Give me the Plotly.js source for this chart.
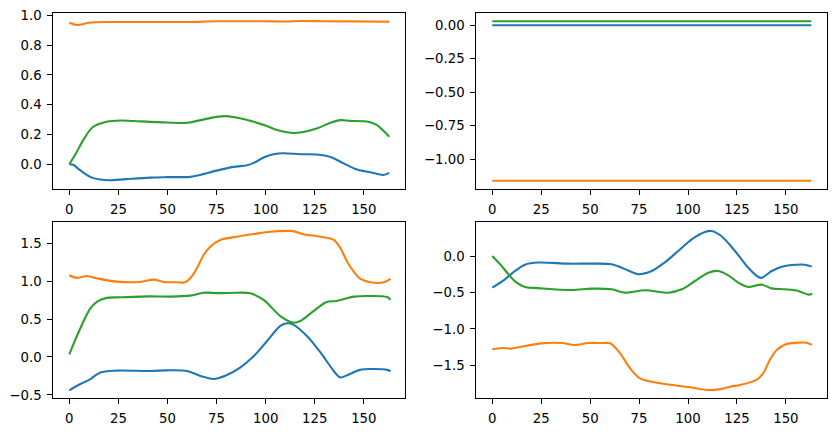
<!DOCTYPE html>
<html>
<head>
<meta charset="utf-8">
<script src="https://cdn.plot.ly/plotly-3.0.1.min.js"></script>
<style>html,body{margin:0;padding:0;background:#fff;}#chart{width:838px;height:432px;}</style>
</head>
<body>
<div id="chart"></div>
<script>
// ---- Panel 1 (top-left) ----
const p1_blue_x = [0, 2, 5.5, 10.6, 15.7, 20, 29, 41, 49.7, 61.6, 66.7, 75, 83.7, 90.5, 94, 99, 104, 109, 117.7, 126, 133, 140, 146.6, 153.4, 160, 163];
const p1_blue_y = [0, -0.004, -0.04, -0.085, -0.103, -0.108, -0.10, -0.09, -0.087, -0.085, -0.072, -0.043, -0.018, -0.007, 0.009, 0.045, 0.067, 0.074, 0.067, 0.065, 0.049, 0.004, -0.036, -0.054, -0.072, -0.058];
const p1_orange_x = [0, 4, 10, 20, 40, 60, 75, 90, 100, 110, 118, 130, 145, 163];
const p1_orange_y = [0.95, 0.935, 0.95, 0.955, 0.955, 0.955, 0.96, 0.96, 0.96, 0.958, 0.962, 0.96, 0.959, 0.957];
const p1_green_x = [0, 3.5, 7, 12, 19, 26, 32.7, 49.7, 60, 66.7, 75, 80, 85, 94, 100.7, 105.8, 112.6, 117.7, 126, 133, 138, 143, 151.7, 156.8, 160, 163];
const p1_green_y = [0, 0.075, 0.16, 0.25, 0.285, 0.294, 0.29, 0.28, 0.278, 0.296, 0.318, 0.323, 0.314, 0.285, 0.256, 0.229, 0.211, 0.213, 0.24, 0.278, 0.296, 0.291, 0.287, 0.262, 0.224, 0.184];

// ---- Panel 2 (top-right) ----
const p2_x = [0, 163];
const p2_blue_y = [0.0, 0.0];
const p2_orange_y = [-1.16, -1.16];
const p2_green_y = [0.03, 0.03];

// ---- Panel 3 (bottom-left) ----
const p3_blue_x = [0, 5.4, 10.5, 15.6, 24, 41, 49.7, 60, 66.7, 73.5, 80, 87, 94, 100.7, 107.5, 111, 114, 121, 128, 134.7, 138, 141.5, 148, 153.4, 162, 163.6];
const p3_blue_y = [-0.44, -0.36, -0.295, -0.207, -0.18, -0.185, -0.176, -0.185, -0.25, -0.29, -0.24, -0.14, 0.013, 0.21, 0.41, 0.444, 0.427, 0.277, 0.057, -0.185, -0.27, -0.24, -0.17, -0.158, -0.17, -0.19];
const p3_orange_x = [0, 3.7, 8.8, 14, 24, 36, 43, 48, 55, 59, 61.6, 65, 68.4, 71.8, 76.9, 85.4, 94, 102.4, 111, 114, 119, 127.9, 134.7, 138.1, 141.5, 144.9, 148.3, 153.4, 160.2, 163.6];
const p3_orange_y = [1.078, 1.043, 1.069, 1.038, 0.994, 0.99, 1.02, 0.99, 0.985, 0.985, 1.038, 1.17, 1.346, 1.455, 1.544, 1.587, 1.622, 1.653, 1.663, 1.66, 1.62, 1.587, 1.544, 1.434, 1.257, 1.125, 1.029, 0.985, 0.985, 1.029];
const p3_green_x = [0, 5.4, 10.5, 14, 19, 26, 41, 51.5, 61.6, 68.4, 76, 85.4, 92.2, 99, 107.5, 114, 117.7, 124.5, 131, 136, 140, 145, 151.7, 162, 163.6];
const p3_green_y = [0.035, 0.365, 0.63, 0.726, 0.78, 0.787, 0.80, 0.796, 0.809, 0.848, 0.842, 0.848, 0.84, 0.752, 0.54, 0.453, 0.475, 0.607, 0.726, 0.739, 0.765, 0.796, 0.805, 0.79, 0.752];

// ---- Panel 4 (bottom-right) ----
const p4_blue_x = [0, 6.5, 11.6, 16.7, 23.5, 38.8, 50.8, 61, 67.8, 74.6, 81.4, 88, 95, 101.9, 108.7, 112, 117, 124, 130.8, 136, 137.6, 142.8, 147.9, 153, 159.8, 163.2];
const p4_blue_y = [-0.434, -0.32, -0.206, -0.119, -0.09, -0.105, -0.105, -0.114, -0.18, -0.25, -0.206, -0.09, 0.069, 0.229, 0.33, 0.343, 0.274, 0.069, -0.16, -0.288, -0.30, -0.206, -0.146, -0.123, -0.119, -0.146];
const p4_orange_x = [0, 4.8, 9.9, 16.7, 25.2, 35.4, 42.2, 49, 56, 60.2, 65.3, 70.4, 75.5, 85.7, 101, 110.4, 115.5, 122, 126.5, 135, 138.4, 141.8, 145.3, 150.3, 156, 160.6, 163.3];
const p4_orange_y = [-1.28, -1.262, -1.27, -1.235, -1.198, -1.194, -1.22, -1.194, -1.194, -1.198, -1.335, -1.54, -1.678, -1.746, -1.80, -1.838, -1.83, -1.79, -1.77, -1.70, -1.61, -1.427, -1.29, -1.207, -1.19, -1.189, -1.22];
const p4_green_x = [0, 4.8, 8.2, 11.6, 16.7, 23.5, 40.5, 50.8, 61, 67.8, 78, 90, 96.8, 103.6, 110.4, 115.5, 120.6, 125.7, 130.8, 137.6, 142.8, 149.6, 156.4, 161.5, 163.5];
const p4_green_y = [0.0, -0.137, -0.25, -0.347, -0.425, -0.44, -0.466, -0.448, -0.457, -0.503, -0.47, -0.503, -0.457, -0.343, -0.229, -0.206, -0.265, -0.366, -0.425, -0.393, -0.444, -0.457, -0.48, -0.53, -0.517];

// ---- Tick labels ----
const xTickVals = [0, 25, 50, 75, 100, 125, 150];
const xTickText = ['0', '25', '50', '75', '100', '125', '150'];
const y1TickVals = [0.0, 0.2, 0.4, 0.6, 0.8, 1.0];
const y1TickText = ['0.0', '0.2', '0.4', '0.6', '0.8', '1.0'];
const y2TickVals = [-1.0, -0.75, -0.5, -0.25, 0.0];
const y2TickText = ['\u22121.00', '\u22120.75', '\u22120.50', '\u22120.25', '0.00'];
const y3TickVals = [-0.5, 0.0, 0.5, 1.0, 1.5];
const y3TickText = ['\u22120.5', '0.0', '0.5', '1.0', '1.5'];
const y4TickVals = [-1.5, -1.0, -0.5, 0.0];
const y4TickText = ['\u22121.5', '\u22121.0', '\u22120.5', '0.0'];

const C_BLUE = '#1f77b4', C_ORANGE = '#ff7f0e', C_GREEN = '#2ca02c';

function tr(x, y, color, xa, ya, smooth) {
  return {x: x, y: y, type: 'scatter', mode: 'lines', xaxis: xa, yaxis: ya,
    line: {color: color, width: 2.1, shape: smooth ? 'spline' : 'linear', smoothing: 0.9},
    hoverinfo: 'skip', showlegend: false};
}

const data = [
  tr(p1_blue_x, p1_blue_y, C_BLUE, 'x', 'y', true),
  tr(p1_orange_x, p1_orange_y, C_ORANGE, 'x', 'y', true),
  tr(p1_green_x, p1_green_y, C_GREEN, 'x', 'y', true),
  tr(p2_x, p2_blue_y, C_BLUE, 'x2', 'y2', false),
  tr(p2_x, p2_orange_y, C_ORANGE, 'x2', 'y2', false),
  tr(p2_x, p2_green_y, C_GREEN, 'x2', 'y2', false),
  tr(p3_blue_x, p3_blue_y, C_BLUE, 'x3', 'y3', true),
  tr(p3_orange_x, p3_orange_y, C_ORANGE, 'x3', 'y3', true),
  tr(p3_green_x, p3_green_y, C_GREEN, 'x3', 'y3', true),
  tr(p4_blue_x, p4_blue_y, C_BLUE, 'x4', 'y4', true),
  tr(p4_orange_x, p4_orange_y, C_ORANGE, 'x4', 'y4', true),
  tr(p4_green_x, p4_green_y, C_GREEN, 'x4', 'y4', true)
];

const font = {family: 'DejaVu Sans', size: 13.3, color: '#000'};
function xax(domain, anchor) {
  return {domain: domain, anchor: anchor, range: [-8.15, 171.15], tickvals: xTickVals, ticktext: xTickText,
    showgrid: false, zeroline: false, showline: true, linecolor: '#000', linewidth: 1, mirror: true,
    ticks: 'outside', ticklen: 5, tickwidth: 1, tickcolor: '#000', tickfont: font, ticklabelstandoff: 3};
}
function yax(domain, anchor, range, tv, tt) {
  return {domain: domain, anchor: anchor, range: range, tickvals: tv, ticktext: tt,
    showgrid: false, zeroline: false, showline: true, linecolor: '#000', linewidth: 1, mirror: true,
    ticks: 'outside', ticklen: 5, tickwidth: 1, tickcolor: '#000', tickfont: font, ticklabelstandoff: 3};
}

const dxL = [0.0636, 0.4837], dxR = [0.5684, 0.9872];
const dyT = [0.5632, 0.9692], dyB = [0.0780, 0.4868];

const layout = {
  width: 838, height: 432,
  margin: {l: 0, r: 0, t: 0, b: 0},
  paper_bgcolor: '#fff', plot_bgcolor: '#fff',
  font: font,
  xaxis: xax(dxL, 'y'),
  yaxis: yax(dyT, 'x', [-0.1645, 1.0135], y1TickVals, y1TickText),
  xaxis2: xax(dxR, 'y2'),
  yaxis2: yax(dyT, 'x2', [-1.2195, 0.0895], y2TickVals, y2TickText),
  xaxis3: xax(dxL, 'y3'),
  yaxis3: yax(dyB, 'x3', [-0.545, 1.7845], y3TickVals, y3TickText),
  xaxis4: xax(dxR, 'y4'),
  yaxis4: yax(dyB, 'x4', [-1.952, 0.4705], y4TickVals, y4TickText)
};

Plotly.newPlot('chart', data, layout, {staticPlot: true, displayModeBar: false});
</script>
</body>
</html>
